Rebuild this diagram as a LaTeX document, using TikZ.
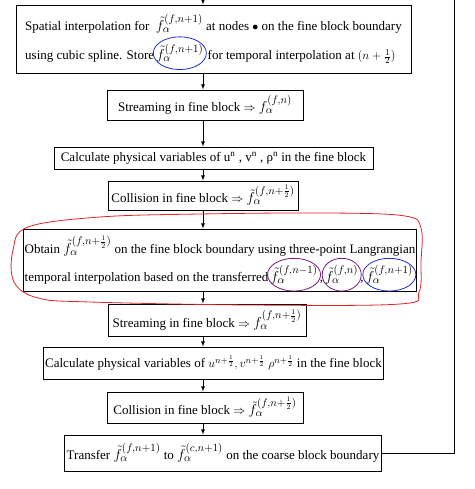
\documentclass[tikz,border=0pt]{standalone}
\usepackage{amsmath}
\usepackage{fontspec}
\setmainfont{Liberation Serif}
\usetikzlibrary{positioning}
\definecolor{markred}{RGB}{225,35,40}
\definecolor{markblue}{RGB}{35,45,215}
\definecolor{markpurple}{RGB}{125,25,125}

% the distribution functions, a little larger than the text
\newcommand{\ftil}[1]{{\fontsize{15}{16}\selectfont$\tilde{f}_{\alpha}^{(#1)}$}}
\newcommand{\fplain}[1]{{\fontsize{15}{16}\selectfont$f_{\alpha}^{(#1)}$}}

% hand drawn ring round a term
\newsavebox{\ringbox}
\newlength{\ringw}
\newlength{\ringh}
\newlength{\ringd}
\newcommand{\handring}[2]{%
  \sbox{\ringbox}{#2}\setlength{\ringw}{\wd\ringbox}%
  \setlength{\ringh}{\ht\ringbox}\setlength{\ringd}{\dp\ringbox}%
  \usebox{\ringbox}%
  \tikz[overlay,baseline=0pt,x=1pt,y=1pt]
    \draw[#1,line width=0.8pt] (-0.5\ringw,0.5\ringh-0.5\ringd) ellipse [x radius=0.5\ringw+3pt, y radius=0.5\ringh+0.5\ringd+7pt];}

\begin{document}
\begin{tikzpicture}[x=1pt,y=-1pt,>=latex,
  box/.style={draw,line width=0.9pt,inner sep=2pt,font=\fontsize{13}{16}\selectfont},
  note/.style={line width=0.8pt}]
\useasboundingbox (0,0) rectangle (474,489);

\coordinate (entry) at (203,0);
\coordinate (looptop) at (454,0);

\node[box,minimum width=395pt,minimum height=68pt,align=left] (spatial) at (213.5,39)
  {Spatial interpolation for \ \ftil{f,n+1} at nodes $\bullet$ on the fine block boundary\\[10pt]
   using cubic spline. Store\,\handring{markblue}{\ftil{f,n+1}}\,\,for temporal interpolation at $(n+\frac{1}{2})$};

\node[box,minimum width=196pt,minimum height=30pt] (stream) at (205,105)
  {Streaming in fine block $\Rightarrow$ \fplain{f,n}};

\node[box,minimum width=319pt,minimum height=22pt] (calc) at (213.5,158)
  {Calculate physical variables of u\textsuperscript{n} , v\textsuperscript{n} , ρ\textsuperscript{n} in the fine block};

\node[box,minimum width=190pt,minimum height=29pt] (coll) at (203,195.5)
  {Collision in fine block $\Rightarrow$ \ftil{f,n+\frac{1}{2}}};

\node[box,minimum width=388pt,minimum height=62pt,inner xsep=1pt,align=left] (obtain) at (220,260)
  {Obtain \ftil{f,n+\frac{1}{2}} on the fine block boundary using three-point Langrangian\\[8pt]
   temporal interpolation based on the transferred\,\handring{markpurple}{\ftil{f,n-1}}\,,\,\handring{markpurple}{\ftil{f,n}}\,,\,\handring{markblue}{\ftil{f,n+1}}};

\node[box,minimum width=198pt,minimum height=32pt] (streamhalf) at (207,320)
  {Streaming in fine block $\Rightarrow$ \fplain{f,n+\frac{1}{2}}};

\node[box,minimum width=339pt,minimum height=32pt] (calchalf) at (213.5,363)
  {Calculate physical variables of $u^{n+\frac{1}{2}},v^{n+\frac{1}{2}}\ \rho^{n+\frac{1}{2}}$ in the fine block};

\node[box,minimum width=196pt,minimum height=31pt] (collhalf) at (205,407.5)
  {Collision in fine block $\Rightarrow$ \ftil{f,n+\frac{1}{2}}};

\node[box,minimum width=312pt,minimum height=36pt] (transfer) at (223,453)
  {Transfer \ftil{f,n+1} to \ftil{c,n+1} on the coarse block boundary};

% main chain
\begin{scope}[->,line width=0.8pt]
\draw (entry) -- (spatial.north -| entry);
\draw (spatial.south -| entry) -- (stream.north -| entry);
\draw (stream.south -| entry) -- (calc.north -| entry);
\draw (calc.south -| entry) -- (coll.north -| entry);
\draw (coll.south -| entry) -- (obtain.north -| entry);
\draw (obtain.south -| entry) -- (streamhalf.north -| entry);
\draw (streamhalf.south -| entry) -- (calchalf.north -| entry);
\draw (calchalf.south -| entry) -- (collhalf.north -| entry);
\draw (collhalf.south -| entry) -- (transfer.north -| entry);
\end{scope}

% back to the top
\draw[line width=0.8pt] (transfer.east) -| (looptop);

% red mark round the interpolation step
\draw[markred,note] plot[smooth cycle,tension=0.6] coordinates
  {(28,227) (100,217) (200,214) (330,213) (405,216) (421,228) (421,262) (419,292) (400,304) (250,305) (90,302) (38,298) (14,282) (13,250)};

\end{tikzpicture}
\end{document}
